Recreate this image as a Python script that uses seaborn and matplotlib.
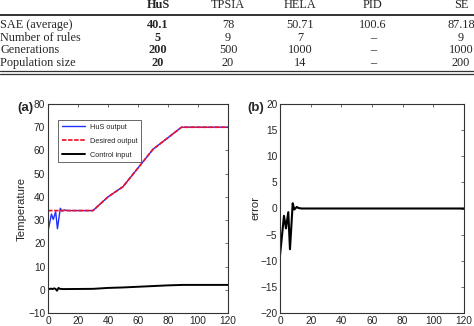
import matplotlib
matplotlib.use("Agg")
import matplotlib.pyplot as plt
import seaborn as sns
import pandas as pd
from matplotlib.lines import Line2D

# ---- table data ----
table_methods = ["HuS", "TPSIA", "HELA", "PID", "SE"]
table_rows = ["SAE (average)", "Number of rules", "Generations", "Population size"]
col_hus = ["40.1", "5", "200", "20"]
col_tpsia = ["78", "9", "500", "20"]
col_hela = ["50.71", "7", "1000", "14"]
col_pid = ["100.6", "\u2013", "\u2013", "\u2013"]
col_se = ["87.18", "9", "1000", "200"]

# ---- panel (a) data ----
desired_x = [0, 30, 40, 50, 70, 80, 89, 120]
desired_y = [34.1, 34.1, 40.0, 44.4, 60.5, 65.5, 70.0, 70.0]
hus_x = [0, 2.3, 3.5, 5.1, 6.3, 8.2, 9.3, 11, 12, 14, 30, 40, 50, 70, 80, 89, 120]
hus_y = [25.2, 32.6, 30.3, 33.6, 26.3, 35.1, 33.9, 34.4, 34.2, 34.1, 34.1, 40.0, 44.4, 60.5, 65.5, 70.0, 70.0]
ctrl_x = [0, 2, 3, 4, 5, 6, 7, 8, 10, 30, 40, 50, 60, 70, 80, 90, 120]
ctrl_y = [0.2, 0.5, 0.3, 0.6, 0.4, -0.4, 0.8, 0.4, 0.3, 0.4, 0.8, 1.0, 1.3, 1.6, 1.9, 2.1, 2.1]

# ---- panel (b) data ----
err_x = [0, 2.6, 3.9, 5.4, 6.5, 8.3, 9.3, 11, 12, 14, 120]
err_y = [-9.0, -1.4, -3.8, -0.7, -7.8, 1.0, -0.2, 0.3, 0.1, 0.0, 0.0]

sns.set_style("white")
plt.rcParams["font.family"] = ["Liberation Sans", "DejaVu Sans"]
plt.rcParams["axes.linewidth"] = 0.8

fig = plt.figure(figsize=(4.74, 3.26), dpi=100)
W, H = 474.0, 326.0

# ---- table ----
serif = ["Liberation Serif", "DejaVu Serif"]
fs_t = 8.8
col_x = [158, 228, 300, 373, 461]
for name, cx in zip(table_methods, col_x):
    fig.text(cx / W, 1 - 5 / H, name, ha="center", va="center", family=serif,
             fontsize=fs_t, fontweight="bold" if name == "HuS" else "normal")
row_y = [25, 38, 50, 63]
cols = [col_hus, col_tpsia, col_hela, col_pid, col_se]
for i, (lab, ry) in enumerate(zip(table_rows, row_y)):
    fig.text(0.5 / W, 1 - ry / H, lab, ha="left", va="center", family=serif, fontsize=fs_t)
    for j, (col, cx) in enumerate(zip(cols, col_x)):
        fig.text(cx / W, 1 - ry / H, col[i], ha="center", va="center", family=serif,
                 fontsize=fs_t, fontweight="bold" if j == 0 else "normal")
for yy, lw in [(14.5, 1.4), (71, 0.9), (73.5, 0.9)]:
    fig.add_artist(Line2D([0, 1], [1 - yy / H, 1 - yy / H], transform=fig.transFigure,
                          color="#333333", lw=lw))

# ---- axes ----
ax1 = fig.add_axes([48 / W, (H - 313) / H, 180 / W, 209 / H])
ax2 = fig.add_axes([280 / W, (H - 313) / H, 184 / W, 209 / H])

df_hus = pd.DataFrame({"x": hus_x, "y": hus_y})
df_des = pd.DataFrame({"x": desired_x, "y": desired_y})
df_ctrl = pd.DataFrame({"x": ctrl_x, "y": ctrl_y})
df_err = pd.DataFrame({"x": err_x, "y": err_y})

sns.lineplot(data=df_hus, x="x", y="y", ax=ax1, color="#1f2fff", lw=1.0, sort=False,
             label="HuS output")
sns.lineplot(data=df_des, x="x", y="y", ax=ax1, color="#f0102a", lw=1.25, sort=False,
             label="Desired output", linestyle=(0, (2.6, 0.9)))
sns.lineplot(data=df_ctrl, x="x", y="y", ax=ax1, color="black", lw=1.4, sort=False,
             label="Control input")
sns.lineplot(data=df_err, x="x", y="y", ax=ax2, color="black", lw=1.5, sort=False)

for ax in (ax1, ax2):
    ax.set_xlim(0, 120)
    ax.set_xticks(range(0, 121, 20))
    ax.tick_params(direction="in", length=2.5, width=0.6, color="#555555",
                   labelsize=7.3, top=True, right=True, pad=2)
    ax.set_xlabel("")
    for s in ax.spines.values():
        s.set_color("#333333")

ax1.set_ylim(-10, 80)
ax1.set_yticks(range(-10, 81, 10))
ax1.set_ylabel("Temperature", fontsize=8.2, labelpad=1)
ax2.set_ylim(-20, 20)
ax2.set_yticks(range(-20, 21, 5))
ax2.set_ylabel("error", fontsize=8.2, labelpad=0)

leg = ax1.legend(loc="upper left", bbox_to_anchor=(0.035, 0.94), fontsize=5.3,
                 frameon=True, fancybox=False, edgecolor="#222222", handlelength=3.2,
                 borderpad=0.5, labelspacing=0.9, handletextpad=0.6)
leg.get_frame().set_linewidth(0.6)

fig.text(17 / W, 1 - 108 / H, "(a)", fontsize=9.5, fontweight="bold", ha="left", va="center")
fig.text(247 / W, 1 - 108 / H, "(b)", fontsize=9.5, fontweight="bold", ha="left", va="center")

fig.savefig("out.png", dpi=100)
